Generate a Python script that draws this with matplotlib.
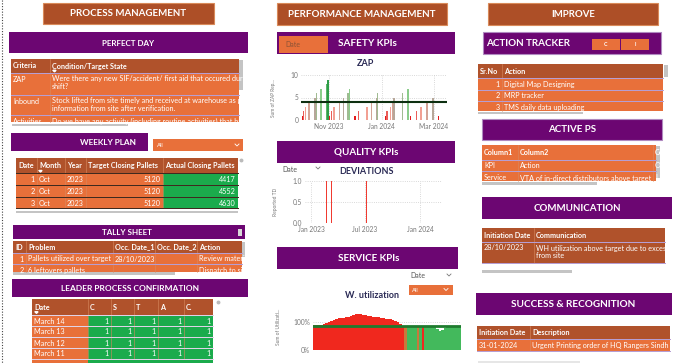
import matplotlib
matplotlib.use("Agg")
import matplotlib.pyplot as plt
from matplotlib.patches import Rectangle
from matplotlib.colors import LinearSegmentedColormap, Normalize
import pandas as pd

plt.rcParams['font.family'] = ['Lato', 'DejaVu Sans']

W, H = 680, 363

# === Farben ===
SIENNA = "#ad4f27"
PURPLE = "#6c0672"
ORANGE = "#e8703a"
BROWN = "#b0522b"
GREEN = "#1bab4c"
LAV = "#b49bd2"
GREY = "#777777"

# === Daten ===
pd_criteria = ["ZAP", "Inbound", "Activities"]
pd_conditions = ["Were there any new SIF/accident/ first aid that occured during the\nshift?",
                 "Stock lifted from site timely and received at warehouse as per\ninformation from site after verification.",
                 "Do we have any activity (including routine activities) that have"]

wp_date = [1, 2, 3]
wp_month = ["Oct", "Oct", "Oct"]
wp_year = [2023, 2023, 2023]
wp_target = [5120, 5120, 5120]
wp_actual = [4417, 4552, 4630]

tally_id = [1, 2]
tally_problem = ["Pallets utilized over target", "6 leftovers pallets"]
tally_occ1 = ["28/10/2023", ""]
tally_occ2 = ["", ""]
tally_action = ["Review material usage", "Dispatch to site"]

lpc_dates = ["March 14", "March 13", "March 12", "March 11"]
lpc_cols = ["C", "S", "T", "A", "C."]
lpc_values = [[1, 1, 1, 1, 1]] * 4

zap_dates = ["2023-10-02", "2023-10-03", "2023-10-05", "2023-10-09", "2023-10-16", "2023-10-18",
             "2023-10-23", "2023-10-30", "2023-10-31", "2023-11-02", "2023-11-04", "2023-11-07",
             "2023-11-13", "2023-11-18", "2023-11-23", "2023-11-25", "2023-12-01", "2023-12-05",
             "2023-12-15", "2023-12-20", "2023-12-26", "2023-12-27", "2024-01-05", "2024-01-07",
             "2024-01-11", "2024-01-13", "2024-01-15", "2024-01-25", "2024-01-31", "2024-02-03",
             "2024-02-10", "2024-02-15", "2024-02-22", "2024-02-29", "2024-03-06"]
zap_values = [1, 2, 3, 4, 5, 6, 7, 8, 9, 1, 2, 3, 4, 5, 6, 7, 1, 2, 3, 4, 5, 6,
              1, 2, 3, 4, 5, 6, 7, 1, 2, 3, 4, 5, 1]
zap_target = 4

dev_dates = ["2023-02-22", "2023-03-11", "2023-07-05"]
dev_values = [1, 1, 1]

util_values = [88, 89, 89, 90, 92, 95, 100, 104, 108, 110, 112, 113, 114, 116, 118, 121, 124, 127,
               128, 127, 125, 124, 122, 120, 118, 117, 116, 115, 113, 111, 110, 109, 108, 104, 98, 92,
               87, 85, 83, 83, 83, 83, 85, 83, 87, 83, 83, 83, 83, 80, 74, 68, 72, 79, 80, 82, 83, 83,
               83, 83]
util_target = 84

action_no = [1, 2, 3]
action_text = ["Digital Map Designing", "MRP tracker", "TMS daily data uploading"]

active_ps = [["KPI", "Action", "Owner"],
             ["Service", "VTA of in-direct distributors above target", "Us"]]

comm_date = ["28/10/2023"]
comm_text = ["WH utilization above target due to excess pallets\nfrom site"]

succ_date = ["31-01-2024"]
succ_text = ["Urgent Printing order of HQ Rangers Sindh"]

# === Grundfläche ===
fig = plt.figure(figsize=(W / 100, H / 100), dpi=100)
ax = fig.add_axes([0, 0, 1, 1])
ax.set_xlim(0, W)
ax.set_ylim(H, 0)
ax.axis('off')
renderer = fig.canvas.get_renderer()


def sub(x0, y0, x1, y1):
    a = fig.add_axes([x0 / W, 1 - y1 / H, (x1 - x0) / W, (y1 - y0) / H])
    a.patch.set_alpha(0)
    for s in a.spines.values():
        s.set_visible(False)
    a.tick_params(labelsize=4.8, colors=GREY, length=0, pad=2)
    return a


def rect(x0, y0, x1, y1, fc, ec="none", lw=0):
    ax.add_patch(Rectangle((x0, y0), x1 - x0, y1 - y0, fc=fc, ec=ec, lw=lw))


def banner(x0, y0, x1, y1, text, fc, width, cx=None, ha="center", ec="none"):
    rect(x0, y0, x1, y1, fc, ec=ec, lw=0.8)
    if cx is None:
        cx = (x0 + x1) / 2
    t = ax.text(cx, (y0 + y1) / 2 + 0.5, text, ha=ha, va="center", color="white",
                fontsize=8, fontweight="bold")
    bw = t.get_window_extent(renderer).width
    t.set_fontsize(8 * width / bw)


def chevron(cx, cy, color="#777777"):
    ax.plot([cx - 2, cx, cx + 2], [cy - 1, cy + 1, cy - 1], color=color, lw=0.6)


def sort_arrow(x, y):
    ax.plot([x, x + 3, x + 1.5, x], [y, y, y + 1.5, y], color="white", lw=0.5)
    ax.fill([x, x + 3, x + 1.5], [y, y, y + 1.5], color="white")


def table(xs, hy, rys, header, rows, hdr_fc, col_fcs, aligns, sep=LAV, fs=5.2,
          clip_bottom=None, clip_right=None, multi=False):
    ymax = clip_bottom if clip_bottom else rys[-1][1]
    xmax = clip_right if clip_right else xs[-1]
    cells = [(hy, header, True)] + [(ry, r, False) for ry, r in zip(rys, rows)]
    for (y0, y1), vals, is_hdr in cells:
        y1c = min(y1, ymax)
        if y0 >= ymax:
            continue
        for j, v in enumerate(vals):
            xa, xb = xs[j], min(xs[j + 1], xmax)
            if xa >= xmax:
                continue
            fc = hdr_fc if is_hdr else col_fcs[j]
            rect(xa, y0, xb, y1c, fc)
            al = "left" if is_hdr else aligns[j]
            tx = xa + 2 if al == "left" else xb - 2
            if multi and not is_hdr:
                t = ax.text(tx, y0 + 1.5, str(v), ha=al, va="top", color="white",
                            fontsize=fs, linespacing=1.05)
            else:
                t = ax.text(tx, (y0 + y1) / 2, str(v), ha=al, va="center", color="white",
                            fontsize=fs, fontweight="bold" if is_hdr else "normal")
            cl = Rectangle((xa, y0), xb - xa, y1c - y0, transform=ax.transData)
            t.set_clip_path(cl)
        for j in range(1, len(xs) - 1):
            if xs[j] < xmax:
                ax.plot([xs[j], xs[j]], [y0, y1c], color="#d88a60", lw=0.4)
        if y1 <= ymax:
            ax.plot([xs[0], xmax], [y1, y1], color=sep, lw=0.7)


def bar(x0, y0, x1, y1):
    rect(x0, y0, x1, y1, "#c4c4c4")


# gepunktete Randlinie links
ax.plot([1.5, 1.5], [0, H], ls=(0, (1, 1.5)), color="#444444", lw=0.8)

# === Überschriften ===
banner(43, 3, 214, 24, "PROCESS MANAGEMENT", SIENNA, 117, ec="#d98a5a")
banner(277, 3, 447, 25, "PERFORMANCE MANAGEMENT", SIENNA, 148, ec="#d98a5a")
banner(488, 3, 658, 25, "IMPROVE", SIENNA, 44, ec="#d98a5a")
banner(9, 32, 248, 53, "PERFECT DAY", PURPLE, 53)
banner(277, 32, 455, 54, "SAFETY KPIs", PURPLE, 59, cx=367)
banner(483, 32, 661, 54, "ACTION TRACKER", PURPLE, 84, cx=486, ha="left", ec="#b08ac0")
banner(11, 133, 148, 151, "WEEKLY PLAN", PURPLE, 57, cx=108)
banner(482, 119, 662, 140, "ACTIVE PS", PURPLE, 48, cx=572, ec="#b08ac0")
banner(277, 141, 455, 163, "QUALITY KPIs", PURPLE, 65, cx=366)
banner(482, 197, 672, 219, "COMMUNICATION", PURPLE, 87, cx=577)
banner(13, 225, 245, 239, "TALLY SHEET", PURPLE, 50, cx=127)
banner(12, 279, 248, 297, "LEADER PROCESS CONFIRMATION", PURPLE, 138, cx=130)
banner(277, 247, 458, 269, "SERVICE KPIs", PURPLE, 62, cx=369)
banner(476, 293, 672, 315, "SUCCESS & RECOGNITION", PURPLE, 123, cx=573)

# === Filter / Schaltflächen ===
rect(153, 139, 243, 151, ORANGE)
ax.text(157, 145.5, "All", color="white", fontsize=4.2, va="center")
chevron(237, 145, "white")
rect(279, 36, 328, 53, ORANGE)
ax.text(285, 44.5, "Date", color="#8a5236", fontsize=5, va="center")
ax.text(282, 169, "Date", color="#555555", fontsize=5, va="center")
chevron(318, 168)
ax.text(410, 276, "Date", color="#555555", fontsize=5, va="center")
chevron(449, 275)
rect(409, 285, 453, 295, ORANGE)
ax.text(412, 290, "All", color="white", fontsize=4.2, va="center")
chevron(446, 289.5, "white")
for bx0, lab in [(592, "C"), (621, "I")]:
    rect(bx0, 39, bx0 + 28, 50, ORANGE)
    ax.text(bx0 + 14, 44.5, lab, color="white", fontsize=3.8, ha="center", va="center", fontweight="bold")

# === Tabellen links ===
table([11, 50, 239], (59, 73), [(74, 95), (96, 115), (116, 130)],
      ["Criteria", "Condition/Target State"], [[c, d] for c, d in zip(pd_criteria, pd_conditions)],
      BROWN, [ORANGE, ORANGE], ["left", "left"], clip_bottom=122, multi=True)
sort_arrow(53, 70.3)
bar(239, 60, 243, 90)
bar(12, 123.5, 128, 126)

table([16, 37, 65, 86, 163, 238], (158, 173), [(174, 185), (186, 197), (198, 208)],
      ["Date", "Month", "Year", "Target Closing Pallets", "Actual Closing Pallets"],
      [[a, b, c, d, e] for a, b, c, d, e in zip(wp_date, wp_month, wp_year, wp_target, wp_actual)],
      BROWN, [ORANGE] * 4 + [GREEN], ["right", "left", "left", "right", "right"], sep="#3a2418")
sort_arrow(39, 170.5)
bar(16, 210.5, 238, 213)
ax.plot(241, 160, "o", ms=1.8, color="#bbbbbb")

table([13, 26, 113, 155, 197, 242], (241, 253), [(254, 264), (265, 276)],
      ["ID", "Problem", "Occ. Date_1", "Occ. Date_2", "Action"],
      [[a, b, c, d, e] for a, b, c, d, e in zip(tally_id, tally_problem, tally_occ1, tally_occ2, tally_action)],
      BROWN, [ORANGE] * 5, ["right", "left", "left", "left", "left"], clip_bottom=272)
bar(13, 272, 175, 274.5)
bar(242, 242, 245, 257)
rect(238, 229, 242, 236, "#d8d8d8")

table([32, 88, 111, 134, 158, 184, 213], (299, 315),
      [(316, 326), (327, 337), (338, 348), (349, 359)],
      ["Date"] + lpc_cols, [[d] + v for d, v in zip(lpc_dates, lpc_values)],
      BROWN, [ORANGE] + [GREEN] * 5, ["left"] + ["right"] * 5, sep="#e0d2e8")
rect(32, 360, 88, 363, ORANGE)
rect(88, 360, 213, 363, GREEN)
sort_arrow(35, 311.8)
ax.plot(218, 302, "o", ms=1.8, color="#bbbbbb")

# === Tabellen rechts ===
table([478, 502, 663], (64, 78), [(79, 90), (91, 101), (102, 113)],
      ["Sr.No", "Action"], [[n, a] for n, a in zip(action_no, action_text)],
      BROWN, [ORANGE, ORANGE], ["right", "left"], clip_bottom=111)
bar(664, 65, 668, 77)
bar(478, 111.5, 583, 114)

table([482, 518, 653, 700], (145, 160), [(161, 171), (172, 184)],
      ["Column1", "Column2", "Column3"], active_ps,
      ORANGE, [ORANGE] * 3, ["left"] * 3, clip_bottom=181, clip_right=656)
bar(656, 146, 660, 178)
bar(482, 182, 597, 184.5)

table([482, 534, 665], (228, 242), [(243, 263)],
      ["Initiation Date", "Communication"], [[d, c] for d, c in zip(comm_date, comm_text)],
      BROWN, [BROWN, BROWN], ["left", "left"], multi=True)
bar(482, 270, 572, 273)

table([477, 530, 670], (326, 339), [(340, 351)],
      ["Initiation Date", "Description"], [[d, s] for d, s in zip(succ_date, succ_text)],
      BROWN, [ORANGE, ORANGE], ["left", "left"])
rect(478, 361, 580, 363, "#e6e6e6")

# === ZAP ===
ax.text(366, 63, "ZAP", ha="center", va="center", fontsize=6.5, fontweight="bold", color="#2a2a55")
zax = sub(301, 75, 447, 120)
cmap = LinearSegmentedColormap.from_list("zap", ["#e41a1c", "#f2a093", "#b7a799", "#8cce8c", "#2e9e48"])
norm = Normalize(1, 9)
zax.bar(pd.to_datetime(zap_dates), zap_values, width=1.6, color=cmap(norm(zap_values)), zorder=2)
zax.axhline(zap_target, color="#0d2f10", lw=1.5, zorder=3)
zax.set_ylim(0, 10)
zax.set_xlim(pd.Timestamp("2023-09-30"), pd.Timestamp("2024-03-16"))
zax.set_yticks([0, 5, 10])
zax.set_xticks(pd.to_datetime(["2023-11-01", "2024-01-01", "2024-03-01"]))
zax.set_xticklabels(["Nov 2023", "Jan 2024", "Mar 2024"])
zax.grid(True, ls=":", color="#cccccc", lw=0.6)
zax.set_axisbelow(True)
ax.text(274, 98, "Sum of ZAP Rep...", rotation=90, fontsize=3.4, color=GREY, ha="center", va="center")

# === DEVIATIONS ===
ax.text(366, 172, "DEVIATIONS", ha="center", va="center", fontsize=6.5, fontweight="bold", color="#2a2a55")
dax = sub(305, 181, 442, 223)
dax.bar(pd.to_datetime(dev_dates), dev_values, width=2.5, color="#f03a30", zorder=2)
dax.set_ylim(0, 1)
dax.set_xlim(pd.Timestamp("2022-12-12"), pd.Timestamp("2024-03-15"))
dax.set_yticks([0, 0.5, 1])
dax.set_yticklabels(["0.0", "0.5", "1.0"])
dax.set_xticks(pd.to_datetime(["2023-01-01", "2023-07-01", "2024-01-01"]))
dax.set_xticklabels(["Jan 2023", "Jul 2023", "Jan 2024"])
dax.grid(True, ls=":", color="#cccccc", lw=0.6)
dax.set_axisbelow(True)
ax.text(275, 202, "Reported TD", rotation=90, fontsize=3.5, color=GREY, ha="center", va="center")

# === W. utilization ===
ax.text(372, 296, "W. utilization", ha="center", va="center", fontsize=6.5, fontweight="bold", color="#2a2a55")
uax = sub(313, 312, 461, 350)
ucol = ["#f0281e" if v > util_target + 2 else ("#c8783c" if v > util_target else "#43b95c")
        for v in util_values]
uax.bar(range(len(util_values)), util_values, width=1.0, color=ucol, lw=0, zorder=2)
uax.axhline(util_target, color="#1e7b2e", lw=2, zorder=3)
uax.set_xlim(-0.5, len(util_values) - 0.5)
uax.set_ylim(0, 135)
uax.set_xticks([])
uax.set_yticks([0, 100])
uax.set_yticklabels(["0%", "100%"])
uax.grid(True, axis="y", ls=":", color="#cccccc", lw=0.6)
uax.set_axisbelow(True)
ax.text(279, 327, "Sum of Utilizati...", rotation=90, fontsize=3.5, color=GREY, ha="center", va="center")

fig.savefig("out.png", dpi=100)
